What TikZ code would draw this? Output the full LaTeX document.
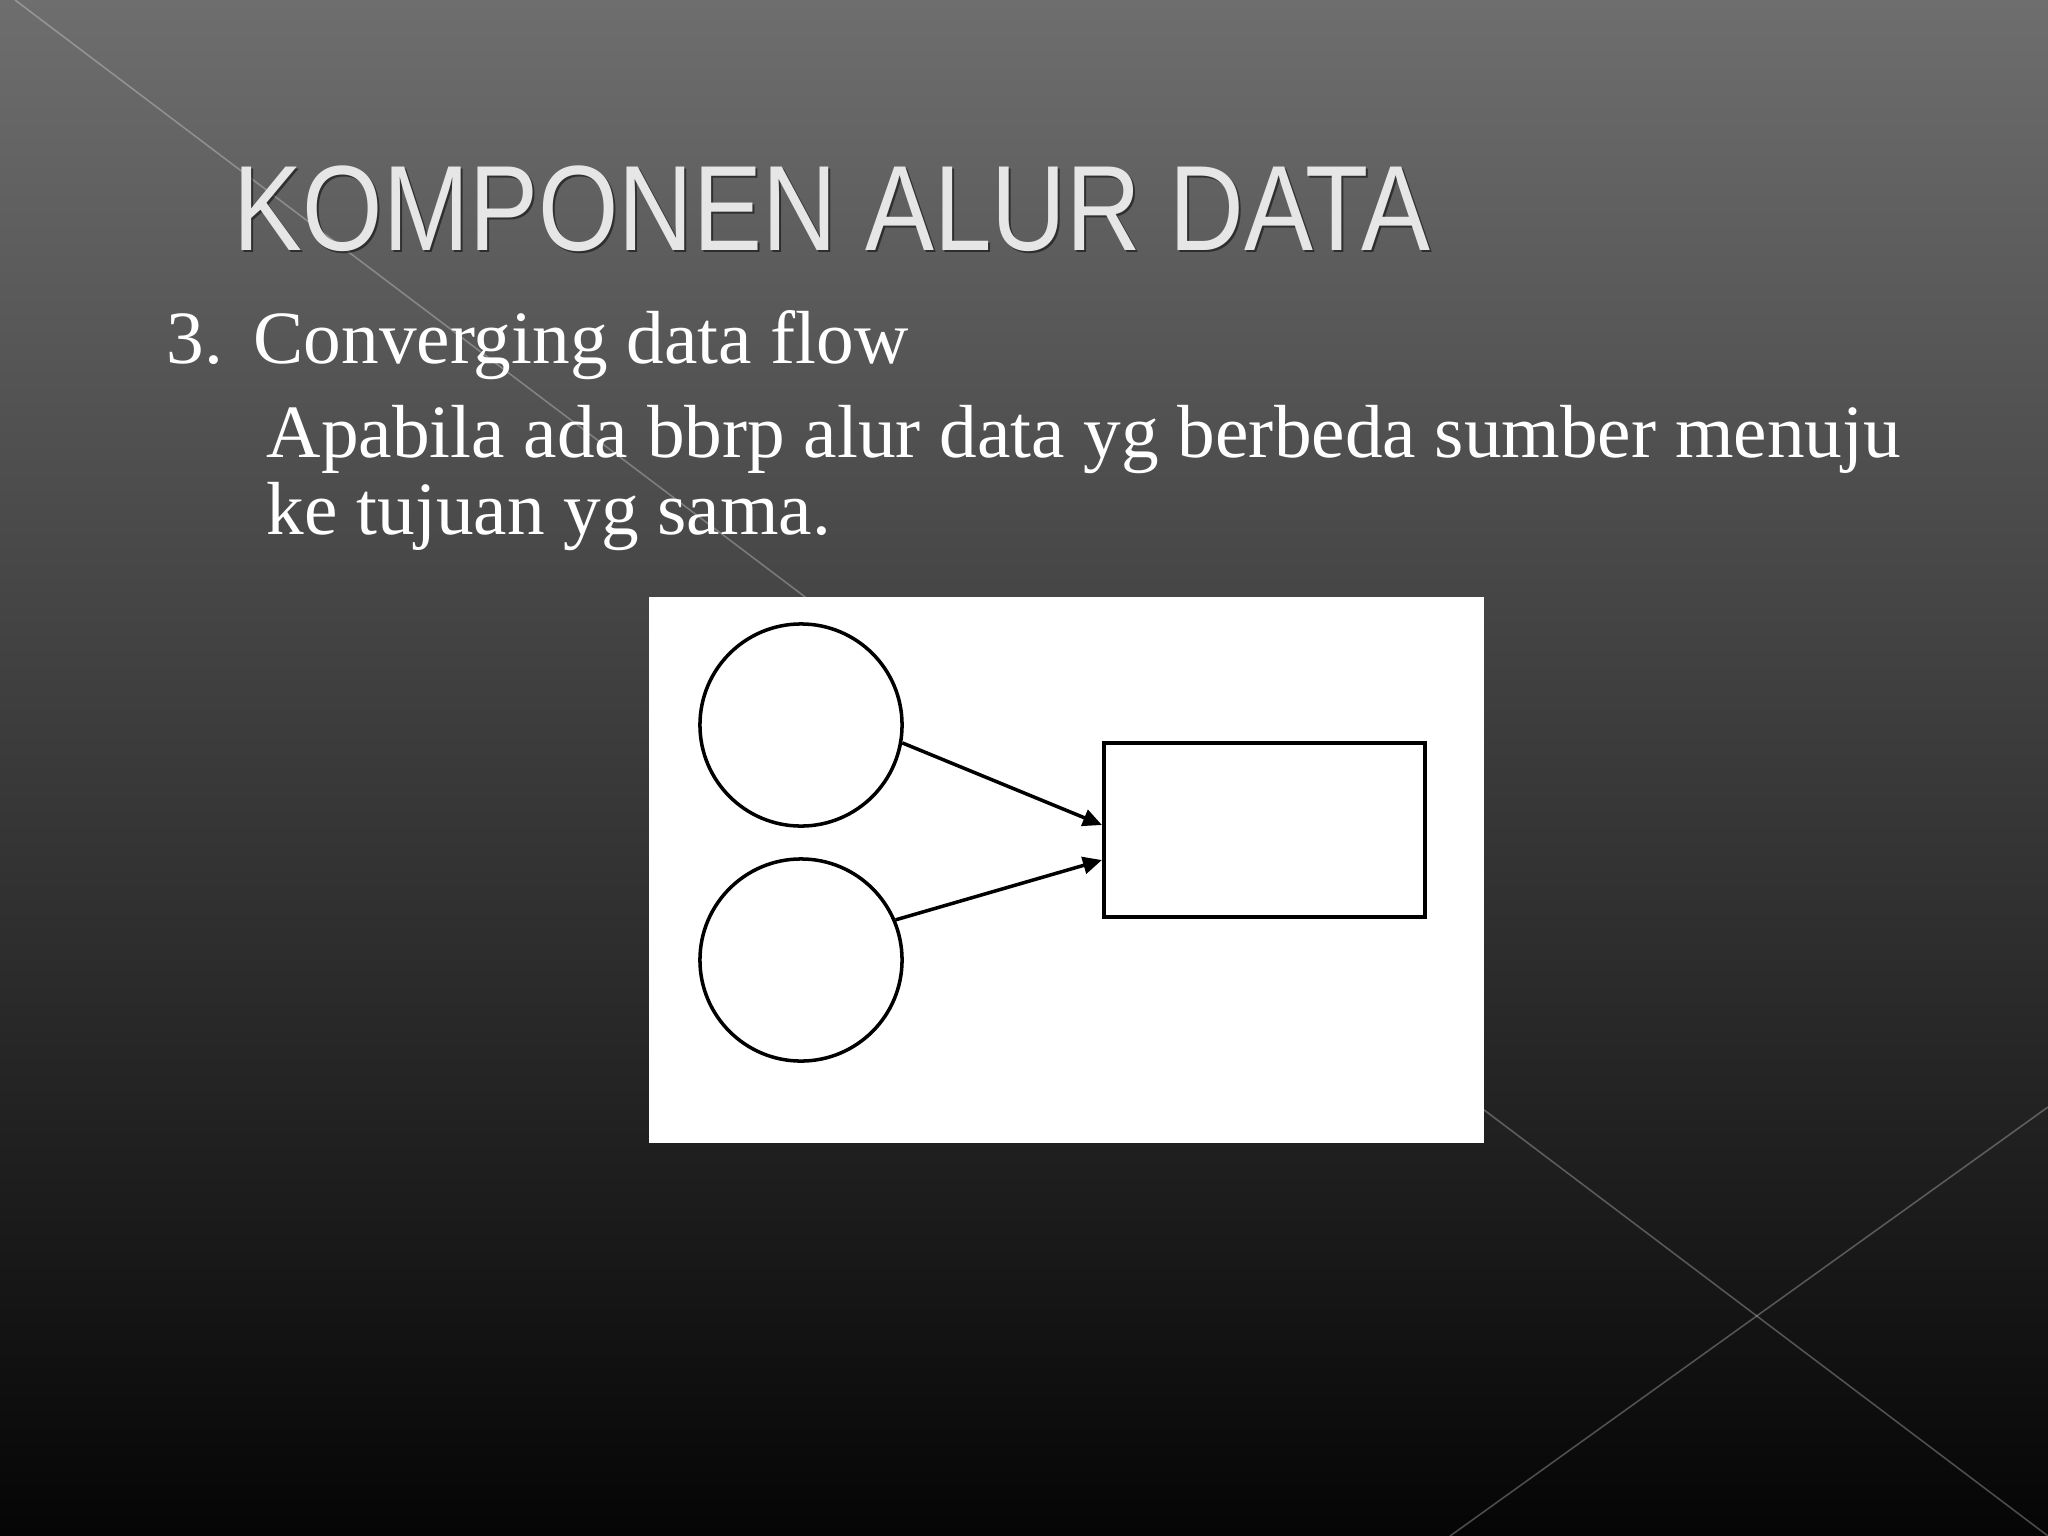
\documentclass[tikz,border=0pt]{standalone}
\usepackage{fontspec}
\setmainfont{Liberation Serif}
\newfontfamily\titlefont{Liberation Sans}
\usetikzlibrary{arrows.meta}
\definecolor{bgtop}{HTML}{6E6E6E}
\definecolor{bgmid}{HTML}{2C2C2C}
\definecolor{bgbot}{HTML}{050505}
\definecolor{titlegray}{HTML}{E6E6E6}
\tikzset{
  deco/.style={draw=white, draw opacity=0.28, line width=0.45pt},
  bodytext/.style={anchor=base west, inner sep=0pt, text=white, font=\fontsize{21.4}{25}\selectfont},
  titletext/.style={anchor=base west, inner sep=0pt, font=\titlefont\fontsize{34.5}{40}\selectfont},
  source/.style={circle, draw=black, line width=1pt, minimum size=2.02cm, inner sep=0pt},
  sink/.style={rectangle, draw=black, line width=1.1pt, minimum width=3.21cm, minimum height=1.74cm, inner sep=0pt},
  flow/.style={draw=black, line width=1pt, -{Triangle[length=0.19cm,width=0.17cm]}}
}
\begin{document}
\begin{tikzpicture}[x=0.01cm,y=-0.01cm]
\useasboundingbox (0,0) rectangle (2048,1536);
\shade[top color=bgtop, middle color=bgmid, bottom color=bgbot] (0,0) rectangle (2048,1536);
% decorative diagonals
\draw[deco] (15,0) -- (2048,1536);
\draw[deco] (2048,1107) -- (1450,1536);
% title
\node[titletext, text=black, opacity=0.5] at (235,252) {\scalebox{0.852}[1]{KOMPONEN ALUR DATA}};
\node[titletext, text=titlegray] (title) at (233,250) {\scalebox{0.852}[1]{KOMPONEN ALUR DATA}};
% body
\node[bodytext] (num) at (166,363) {3.};
\node[bodytext] (head) at (253,363) {Converging data flow};
\node[bodytext] (l1) at (266,457) {Apabila ada bbrp alur data yg berbeda sumber menuju};
\node[bodytext] (l2) at (266,534) {ke tujuan yg sama.};
% panel
\fill[white] (649,597) rectangle (1484,1143);
\node[source] (c1) at (801,725) {};
\node[source] (c2) at (801,960) {};
\node[sink] (r) at (1264.5,830) {};
\draw[flow] (c1.-10) -- ([yshift=0.05cm]r.west);
\draw[flow] (c2.23) -- ([yshift=-0.3cm]r.west);
\end{tikzpicture}
\end{document}
